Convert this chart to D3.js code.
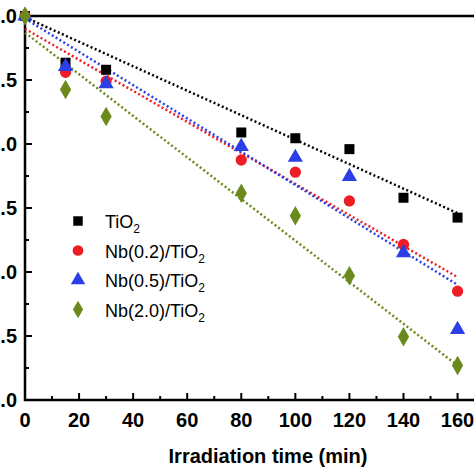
<!DOCTYPE html>
<html>
<head>
<meta charset="utf-8">
<script src="https://cdn.jsdelivr.net/npm/d3@7"></script>
<style>
  body { margin: 0; background: #fff; }
  svg { display: block; }
</style>
</head>
<body>
<svg id="chart" width="474" height="474"></svg>
<script>
// irradiation times (min)
const times = [0, 15, 30, 80, 100, 120, 140, 160]

const seriesNames = ['TiO2', 'Nb(0.2)/TiO2', 'Nb(0.5)/TiO2', 'Nb(2.0)/TiO2']
const seriesColors = ['#000000', '#ee1c24', '#2b3fe6', '#6b8a1c']
const seriesShapes = [d3.symbolSquare, d3.symbolCircle, d3.symbolTriangle, d3.symbolDiamond]

// ln(C/C0) values
const tio2 = [0, -0.365, -0.42, -0.91, -0.955, -1.04, -1.42, -1.575]
const nb02 = [0, -0.44, -0.51, -1.125, -1.22, -1.445, -1.785, -2.15]
const nb05 = [0, -0.395, -0.53, -1.02, -1.105, -1.255, -1.85, -2.45]
const nb20 = [0, -0.575, -0.785, -1.385, -1.56, -2.03, -2.505, -2.73]
const seriesValues = [tio2, nb02, nb05, nb20]

// linear fit lines: value at t=0 and t=160
const fitStart = [-0.01, -0.10, -0.02, -0.13]
const fitEnd = [-1.54, -2.04, -2.10, -2.73]

const yTicks = [0, -0.5, -1, -1.5, -2, -2.5, -3]
const xTicks = [0, 20, 40, 60, 80, 100, 120, 140, 160]

const svg = d3.select('#chart')
const mLeft = 25, mTop = 16, mRight = 490, mBottom = 400

const x = d3.scaleLinear().domain([0, 172]).range([mLeft, mRight])
const y = d3.scaleLinear().domain([0, -3]).range([mTop, mBottom])

// frame
svg.append('rect')
    .attr('x', mLeft).attr('y', mTop)
    .attr('width', mRight - mLeft).attr('height', mBottom - mTop)
    .attr('fill', 'none').attr('stroke', '#000').attr('stroke-width', 2.5)

// x axis ticks (inside)
const xMinor = d3.range(0, 171, 10)
svg.append('g').selectAll('line').data(xMinor).join('line')
    .attr('x1', d => x(d)).attr('x2', d => x(d))
    .attr('y1', mBottom).attr('y2', d => mBottom - (d % 20 === 0 ? 7 : 4))
    .attr('stroke', '#000').attr('stroke-width', 2)
svg.append('g').selectAll('text').data(xTicks).join('text')
    .attr('x', d => x(d)).attr('y', 427)
    .attr('text-anchor', 'middle')
    .attr('font-family', 'Liberation Sans, Arial, sans-serif')
    .attr('font-weight', 'bold').attr('font-size', 20)
    .text(d => d)

// y axis ticks (inside)
const yMinor = d3.range(0, 13).map(i => -i * 0.25)
svg.append('g').selectAll('line').data(yMinor).join('line')
    .attr('x1', mLeft).attr('x2', (d, i) => mLeft + (i % 2 === 0 ? 7 : 4))
    .attr('y1', d => y(d)).attr('y2', d => y(d))
    .attr('stroke', '#000').attr('stroke-width', 2)
svg.append('g').selectAll('text').data(yTicks).join('text')
    .attr('x', 17).attr('y', d => y(d) + 7)
    .attr('text-anchor', 'end')
    .attr('font-family', 'Liberation Sans, Arial, sans-serif')
    .attr('font-weight', 'bold').attr('font-size', 20)
    .text(d => d3.format('.1f')(d))

svg.append('text')
    .attr('x', 268).attr('y', 463)
    .attr('text-anchor', 'middle')
    .attr('font-family', 'Liberation Sans, Arial, sans-serif')
    .attr('font-weight', 'bold').attr('font-size', 20)
    .text('Irradiation time (min)')

// fit lines
seriesNames.forEach((name, i) => {
    svg.append('line')
        .attr('x1', x(0)).attr('y1', y(fitStart[i]))
        .attr('x2', x(160)).attr('y2', y(fitEnd[i]))
        .attr('stroke', seriesColors[i]).attr('stroke-width', 2.5)
        .attr('stroke-dasharray', '2,2.5')
})

// points
seriesNames.forEach((name, i) => {
    const sym = d3.symbol().type(seriesShapes[i]).size(i === 3 ? 110 : 100)
    svg.append('g').selectAll('path').data(seriesValues[i]).join('path')
        .attr('d', sym)
        .attr('transform', (d, j) => `translate(${x(times[j])},${y(d)})`)
        .attr('fill', seriesColors[i])
})

// legend
const legend = svg.append('g')
seriesNames.forEach((name, i) => {
    const ly = 221 + i * 29.5
    legend.append('path')
        .attr('d', d3.symbol().type(seriesShapes[i]).size(90)())
        .attr('transform', `translate(78,${ly})`)
        .attr('fill', seriesColors[i])
    const t = legend.append('text')
        .attr('x', 105).attr('y', ly + 7)
        .attr('font-family', 'Liberation Sans, Arial, sans-serif')
        .attr('font-size', 18)
    t.append('tspan').text(name.slice(0, -1))
    t.append('tspan').attr('font-size', 12).attr('dy', 5).text('2')
})
</script>
</body>
</html>
